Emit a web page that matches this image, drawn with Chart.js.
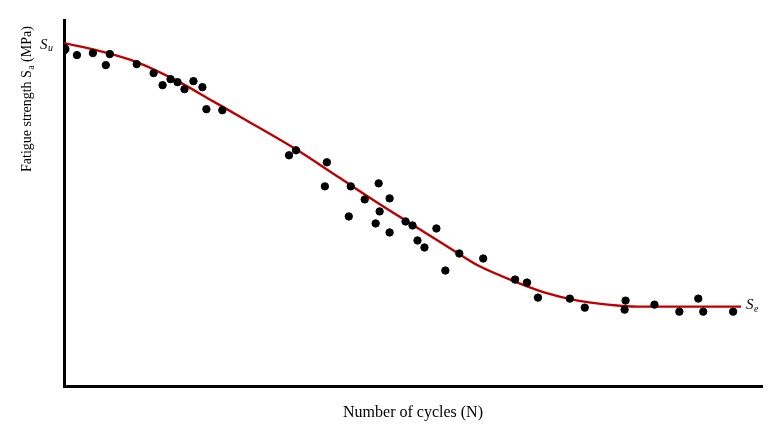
<!DOCTYPE html>
<html>
<head>
<meta charset="utf-8">
<script src="https://cdn.jsdelivr.net/npm/chart.js@4.4.1/dist/chart.umd.min.js"></script>
<style>
    html, body { margin: 0; padding: 0; background: #fff; }
    #wrap { width: 768px; height: 440px; }
</style>
</head>
<body>
<div id="wrap"><canvas id="chartSN"></canvas></div>
<script>
const testX = [13, 29, 42, 46, 73, 90, 99, 107, 114, 121, 130, 139, 143, 159,
    226, 233, 264, 262, 288, 286, 302, 316, 327, 317, 313, 327, 343, 350, 355, 362, 374,
    383, 397, 421, 453, 465, 476, 508, 523, 564, 563, 593, 618, 637, 642, 672];
const testY = [331, 333, 321, 332, 322, 313, 301, 307, 304, 297, 305, 299, 277, 276,
    231, 236, 224, 200, 200, 170, 187, 203, 188, 175, 163, 154, 165, 161, 146, 139, 158,
    116, 133, 128, 107, 104, 89, 88, 79, 86, 77, 82, 75, 88, 75, 75];

// fitted S-N curve
const curveX = [0, 36, 73, 116, 146, 183, 233, 276, 316, 356, 396, 416, 453, 483, 516, 546, 576, 636, 680];
const curveY = [343, 335, 324, 304, 287, 266, 237, 209, 183, 158, 133, 121, 105, 94, 86, 82, 80, 80, 80];

// ultimate strength point on the axis
const suX = [0];
const suY = [337];

const serif = "'Liberation Serif', 'Times New Roman', serif";

function toPoints(xs, ys) {
    return xs.map((x, i) => ({ x: x, y: ys[i] }));
}

// labels that Chart.js can't do by itself (subscripts)
const labelPlugin = {
    id: 'snLabels',
    afterDraw(chart) {
        const ctx = chart.ctx;
        const xs = chart.scales.x, ys = chart.scales.y;
        ctx.save();
        ctx.fillStyle = '#000';
        ctx.textBaseline = 'alphabetic';

        // y title, rotated
        ctx.save();
        ctx.translate(31, 172);
        ctx.rotate(-Math.PI / 2);
        ctx.textAlign = 'left';
        ctx.font = '14px ' + serif;
        let t1 = 'Fatigue strength S';
        ctx.fillText(t1, 0, 0);
        let w = ctx.measureText(t1).width;
        ctx.font = '9.5px ' + serif;
        ctx.fillText('a', w + 0.5, 3);
        w += ctx.measureText('a').width + 0.5;
        ctx.font = '14px ' + serif;
        ctx.fillText(' (MPa)', w, 0);
        ctx.restore();

        // S_u at the top of the axis
        const uy = ys.getPixelForValue(curveY[0]);
        ctx.font = 'italic 15px ' + serif;
        ctx.textAlign = 'left';
        ctx.fillText('S', 40, uy + 6);
        ctx.font = 'italic 10px ' + serif;
        ctx.fillText('u', 48, uy + 8);

        // S_e at the end of the curve
        const ex = xs.getPixelForValue(curveX[curveX.length - 1]);
        const ey = ys.getPixelForValue(curveY[curveY.length - 1]);
        ctx.font = 'italic 15px ' + serif;
        ctx.fillText('S', ex + 5, ey + 2);
        ctx.font = 'italic 10px ' + serif;
        ctx.fillText('e', ex + 13, ey + 5);
        ctx.restore();
    }
};

const ctxSN = document.getElementById('chartSN').getContext('2d');
const chartSN = new Chart(ctxSN, {
    type: 'scatter',
    data: {
        datasets: [{
            label: 'S-N curve',
            type: 'line',
            data: toPoints(curveX, curveY),
            borderColor: '#c00000',
            borderWidth: 2.4,
            pointRadius: 0,
            fill: false,
            cubicInterpolationMode: 'monotone',
            order: 2
        }, {
            label: 'Tests',
            data: toPoints(testX, testY),
            backgroundColor: '#000',
            borderColor: '#000',
            pointRadius: 3.7,
            order: 1
        }, {
            label: 'Su',
            data: toPoints(suX, suY),
            backgroundColor: '#000',
            borderColor: '#000',
            pointRadius: 5,
            order: 0
        }]
    },
    options: {
        responsive: true,
        maintainAspectRatio: false,
        animation: false,
        devicePixelRatio: 1,
        layout: { padding: { left: 64, right: 1, top: 20, bottom: 18 } },
        plugins: {
            legend: { display: false },
            tooltip: { enabled: false }
        },
        scales: {
            x: {
                type: 'linear',
                min: 0,
                max: 701,
                grid: { display: false, drawTicks: false },
                ticks: { display: false },
                border: { display: true, color: '#000', width: 3 },
                title: {
                    display: true,
                    text: 'Number of cycles (N)',
                    color: '#000',
                    font: { family: serif, size: 16 },
                    padding: { top: 16, bottom: 0 }
                }
            },
            y: {
                type: 'linear',
                min: 0,
                max: 366,
                grid: { display: false, drawTicks: false },
                ticks: { display: false },
                border: { display: true, color: '#000', width: 3 }
            }
        }
    },
    plugins: [labelPlugin]
});
</script>
</body>
</html>
